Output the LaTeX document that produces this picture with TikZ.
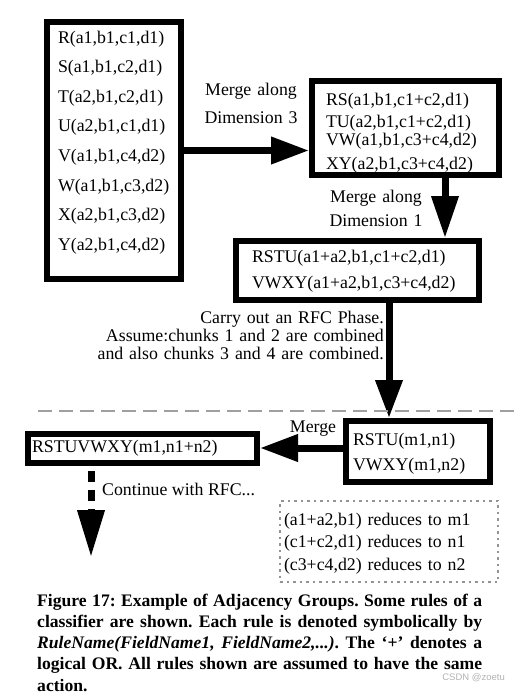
\documentclass[tikz,border=0pt]{standalone}
\usepackage{fontspec}
\setmainfont{Liberation Serif}
\newfontfamily\marksans{Liberation Sans}
\usetikzlibrary{arrows.meta}

\begin{document}
\begin{tikzpicture}
        [
        x=1pt, y=-1pt,
        every node/.style={font=\fontsize{17.8}{21}\selectfont, inner sep=0pt},
        rulebox/.style={draw, line width=6pt, align=left, inner ysep=0pt, text height=12pt},
        bigarrow/.style={line width=7pt, -{Triangle[length=38pt,width=26pt]}},
        sepline/.style={draw=gray!75, line width=2.5pt, dash pattern=on 14pt off 7pt},
        reducebox/.style={draw=gray!85, line width=1.3pt, dash pattern=on 2.5pt off 4pt, align=left, text height=12pt}
        ]
        \useasboundingbox (0,0) rectangle (521,694);
        % Rule boxes
        \node (rules) [rulebox, text width=112pt, inner xsep=11pt, minimum width=134pt, minimum height=257pt,
                text depth=227pt, font=\fontsize{17.8}{29.6}\selectfont] at (114,150.5)
                {R(a1,b1,c1,d1)\\S(a1,b1,c2,d1)\\T(a2,b1,c2,d1)\\U(a2,b1,c1,d1)\\
                 V(a1,b1,c4,d2)\\W(a1,b1,c3,d2)\\X(a2,b1,c3,d2)\\Y(a2,b1,c4,d2)};
        \node (merged3) [rulebox, text width=159pt, inner xsep=14pt, minimum width=187pt, minimum height=94pt,
                text depth=58pt, font=\fontsize{17.8}{18}\selectfont] at (405.5,128)
                {RS(a1,b1,c1+c2,d1)\\[4pt]TU(a2,b1,c1+c2,d1)\\VW(a1,b1,c3+c4,d2)\\[6pt]XY(a2,b1,c3+c4,d2)};
        \node (merged1) [rulebox, text width=211pt, inner xsep=16pt, minimum width=243pt, minimum height=59pt,
                text depth=29pt, font=\fontsize{17.8}{26}\selectfont] at (357.5,270.5)
                {RSTU(a1+a2,b1,c1+c2,d1)\\VWXY(a1+a2,b1,c3+c4,d2)};
        \node (reduced) [rulebox, text width=130pt, inner xsep=7pt, minimum width=144pt, minimum height=61pt,
                text depth=25pt, font=\fontsize{17.8}{25}\selectfont] at (418,451.5)
                {RSTU(m1,n1)\\VWXY(m1,n2)};
        \node (final) [rulebox, text width=221pt, inner xsep=4pt, minimum width=229pt, minimum height=29pt,
                text depth=5pt] at (142.5,448.5)
                {RSTUVWXY(m1,n1+n2)};
        \node (reduces) [reducebox, text width=210pt, inner xsep=4pt, minimum width=218pt, minimum height=81pt,
                text depth=45pt, font=\fontsize{17.8}{22.5}\selectfont] at (389,541.5)
                {(a1+a2,b1) reduces to m1\\(c1+c2,d1) reduces to n1\\(c3+c4,d2) reduces to n2};

        % Labels
        \node (dimthree) [text width=110pt, align=center, anchor=base, font=\fontsize{17.8}{28}\selectfont]
                at (251,95) {Merge along\\Dimension 3};
        \node (dimone) [text width=110pt, align=center, anchor=base, font=\fontsize{17.8}{24}\selectfont]
                at (376,202) {Merge along\\Dimension 1};
        \node (rfcnote) [text width=300pt, align=right, anchor=base east, font=\fontsize{17.8}{18}\selectfont]
                at (384,323) {Carry out an RFC Phase.\\Assume:chunks 1 and 2 are combined\\and also chunks 3 and 4 are combined.};
        \node (mergenote) [anchor=base] at (313,432) {Merge};
        \node (continue) [anchor=base west] at (102,495) {Continue with RFC...};

        % Helper coordinates
        \coordinate (dimonex) at (445,0);
        \coordinate (rfcx) at (389,0);
        \coordinate (mergey) at (0,448);
        \coordinate (goon) at (91,557);
        \coordinate (sepleft) at (38,411);
        \coordinate (sepright) at (521,411);

        % Arrows
        \draw[bigarrow] (rules.east) -- (rules.east -| merged3.west);
        \draw[bigarrow, -{Triangle[length=42pt,width=26pt]}] (dimonex |- merged3.south) -- (dimonex |- merged1.north);
        \draw[bigarrow] (rfcx |- merged1.south) -- (rfcx |- reduced.north);
        \draw[bigarrow] (mergey -| reduced.west) -- (mergey -| final.east);
        \draw[bigarrow, dash pattern=on 11pt off 8pt, dash phase=14pt, -{Triangle[length=47pt,width=26pt]}]
                (goon |- final.south) -- (goon);
        \draw[sepline] (sepleft) -- (sepright);

        % Caption
        \node (caption) [text width=445pt, align=justify, anchor=base west, font=\bfseries\frenchspacing\fontsize{17.6}{21.3}\selectfont]
                at (37,606) {Figure 17: Example of Adjacency Groups. Some rules of a\linebreak
                classifier are shown. Each rule is denoted symbolically by\linebreak
                \textit{RuleName(FieldName1, FieldName2,...)}. The ‘+’ denotes a\linebreak
                logical OR. All rules shown are assumed to have the same\linebreak
                action.};
        \node (mark) [anchor=base east, text=gray!60, font=\marksans\fontsize{9.5}{11}\selectfont]
                at (505,680) {CSDN @zoetu};
    \end{tikzpicture}
\end{document}
